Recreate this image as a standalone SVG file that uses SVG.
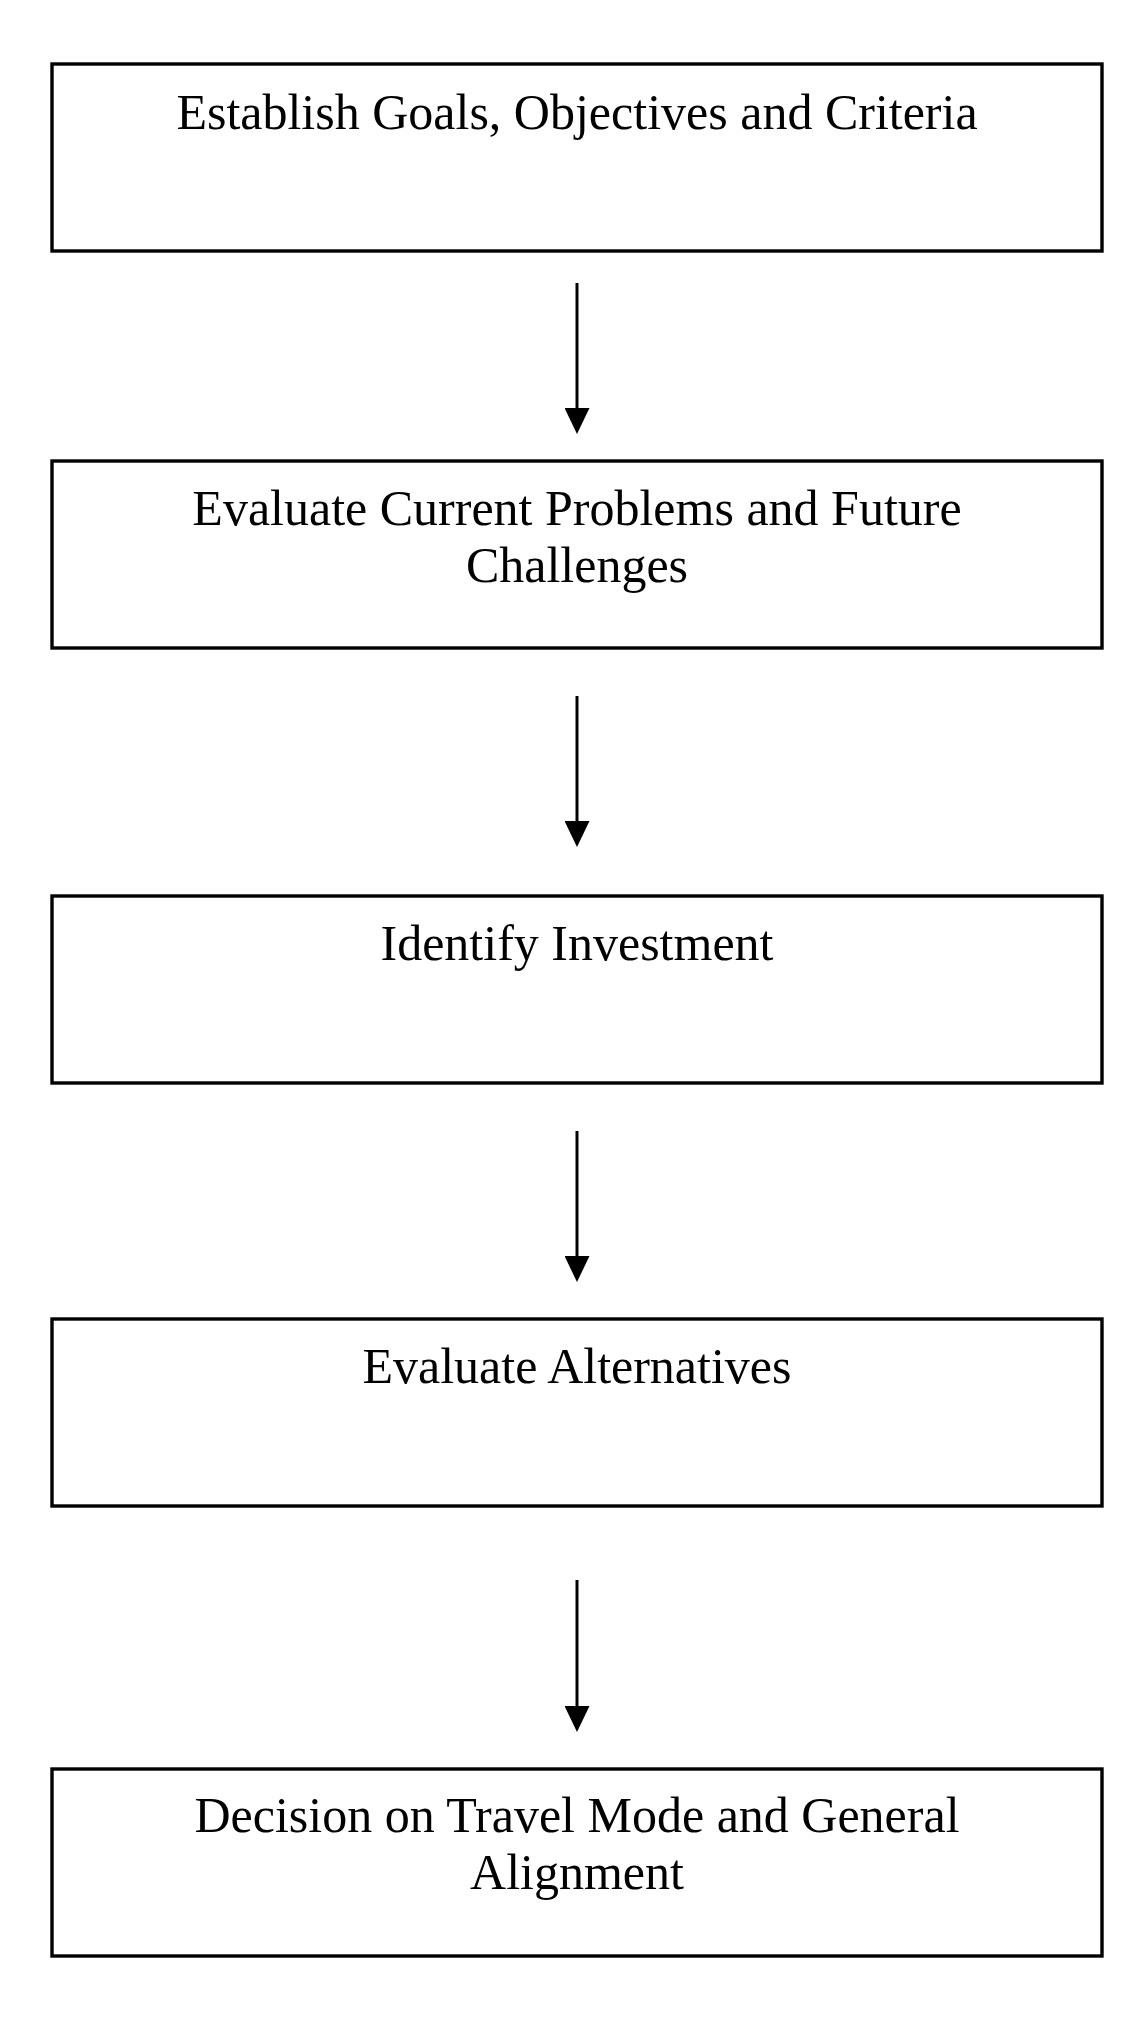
<svg xmlns="http://www.w3.org/2000/svg" width="1135" height="2018" viewBox="0 0 1135 2018">
<style>
.box{fill:#fff;stroke:#000;stroke-width:3.4}
.lbl{font-family:"Liberation Serif","Times New Roman",serif;font-size:50px;fill:#000;text-anchor:middle}
.conn{stroke:#000;stroke-width:3;fill:none}
</style>
<defs>
<marker id="ah" markerUnits="userSpaceOnUse" markerWidth="26" markerHeight="25" refX="1" refY="12.5" orient="auto">
<path d="M0,0 L26,12.5 L0,25 z" fill="#000"/>
</marker>
</defs>
<rect width="1135" height="2018" fill="#fff"/>
<g id="n1">
<rect class="box" x="52" y="64" width="1050" height="187"/>
<text class="lbl" x="577" y="129">Establish Goals, Objectives and Criteria</text>
</g>
<g id="n2">
<rect class="box" x="52" y="461" width="1050" height="187"/>
<text class="lbl" x="577" y="525">Evaluate Current Problems and Future</text>
<text class="lbl" x="577" y="582">Challenges</text>
</g>
<g id="n3">
<rect class="box" x="52" y="896" width="1050" height="187"/>
<text class="lbl" x="577" y="960">Identify Investment</text>
</g>
<g id="n4">
<rect class="box" x="52" y="1319" width="1050" height="187"/>
<text class="lbl" x="577" y="1383">Evaluate Alternatives</text>
</g>
<g id="n5">
<rect class="box" x="52" y="1769" width="1050" height="187"/>
<text class="lbl" x="577" y="1832">Decision on Travel Mode and General</text>
<text class="lbl" x="577" y="1889">Alignment</text>
</g>
<g id="connectors">
<line class="conn" x1="577" y1="283" x2="577" y2="409" marker-end="url(#ah)"/>
<line class="conn" x1="577" y1="696" x2="577" y2="822" marker-end="url(#ah)"/>
<line class="conn" x1="577" y1="1131" x2="577" y2="1257" marker-end="url(#ah)"/>
<line class="conn" x1="577" y1="1580" x2="577" y2="1707" marker-end="url(#ah)"/>
</g>
</svg>
